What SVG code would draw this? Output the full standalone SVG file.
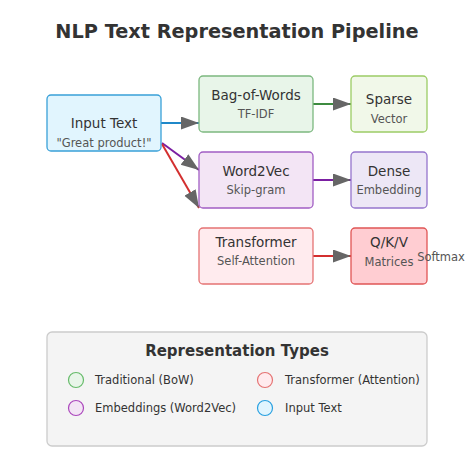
<svg xmlns="http://www.w3.org/2000/svg" width="474" height="474" viewBox="0 0 474 474">
<defs>
<marker id="ah" markerUnits="userSpaceOnUse" markerWidth="19" markerHeight="14" refX="18" refY="6.5" orient="auto"><path d="M0,0 L18,6.5 L0,13 z" fill="#666"/></marker>
<style>
text{font-family:"DejaVu Sans","Liberation Sans",sans-serif;text-anchor:middle}
.t{font-size:13.5px;fill:#333}
.s{font-size:11.5px;fill:#555}
.box{stroke-width:1.3}
.c{fill:none;stroke-width:2;marker-end:url(#ah)}
.lg{font-size:11.5px;fill:#333;text-anchor:start}
</style>
</defs>
<rect width="474" height="474" fill="#fff"/>
<text x="237" y="38" style="font-size:19.3px;font-weight:bold;fill:#333">NLP Text Representation Pipeline</text>
<g id="connectors">
<path class="c" d="M161,123 L199,123" stroke="#1f88c9"/>
<path class="c" d="M162,143 L199,170" stroke="#7b1fa2"/>
<path class="c" d="M162,144 L199,208" stroke="#d32f2f"/>
<path class="c" d="M313,104 L351,104" stroke="#3d8b40"/>
<path class="c" d="M313,180 L351,180" stroke="#7b1fa2"/>
<path class="c" d="M313,256 L351,256" stroke="#d32f2f"/>
</g>
<g id="input"><rect class="box" x="47" y="95" width="114" height="56" rx="4" fill="#e1f5fe" stroke="#39a0d8"/><text class="t" x="104" y="128">Input Text</text><text class="s" x="104" y="147">"Great product!"</text></g>
<g id="bow"><rect class="box" x="199" y="76" width="114" height="56" rx="4" fill="#e8f5e9" stroke="#7cb87f"/><text class="t" x="256" y="100">Bag-of-Words</text><text class="s" x="256" y="118">TF-IDF</text></g>
<g id="w2v"><rect class="box" x="199" y="152" width="114" height="56" rx="4" fill="#f3e5f5" stroke="#a15ec4"/><text class="t" x="256" y="176">Word2Vec</text><text class="s" x="256" y="194">Skip-gram</text></g>
<g id="transformer"><rect class="box" x="199" y="228" width="114" height="56" rx="4" fill="#ffebee" stroke="#e57373"/><text class="t" x="256" y="247">Transformer</text><text class="s" x="256" y="265">Self-Attention</text></g>
<g id="sparse"><rect class="box" x="351" y="76" width="76" height="56" rx="4" fill="#f1f8e9" stroke="#9ccc65"/><text class="t" x="389" y="104">Sparse</text><text class="s" x="389" y="123">Vector</text></g>
<g id="dense"><rect class="box" x="351" y="152" width="76" height="56" rx="4" fill="#ede7f6" stroke="#9575cd"/><text class="t" x="389" y="176">Dense</text><text class="s" x="389" y="194">Embedding</text></g>
<g id="qkv"><rect class="box" x="351" y="228" width="76" height="56" rx="4" fill="#ffcdd2" stroke="#e05555"/><text class="t" x="389" y="247">Q/K/V</text><text class="s" x="389" y="266">Matrices</text></g>
<text class="s" x="441" y="261">Softmax</text>
<g id="legend">
<rect x="47" y="332" width="380" height="114" rx="5" fill="#f4f4f4" stroke="#cccccc" stroke-width="1.3"/>
<text x="237" y="356" style="font-size:15px;font-weight:bold;fill:#333">Representation Types</text>
<circle cx="76" cy="380" r="7.5" fill="#e8f5e9" stroke="#66bb6a" stroke-width="1.2"/>
<text class="lg" x="95" y="384">Traditional (BoW)</text>
<circle cx="76" cy="408" r="7.5" fill="#f3e5f5" stroke="#ab47bc" stroke-width="1.2"/>
<text class="lg" x="95" y="412">Embeddings (Word2Vec)</text>
<circle cx="265" cy="380" r="7.5" fill="#ffebee" stroke="#e57373" stroke-width="1.2"/>
<text class="lg" x="285" y="384">Transformer (Attention)</text>
<circle cx="265" cy="408" r="7.5" fill="#e1f5fe" stroke="#29a0e0" stroke-width="1.2"/>
<text class="lg" x="285" y="412">Input Text</text>
</g>
</svg>
